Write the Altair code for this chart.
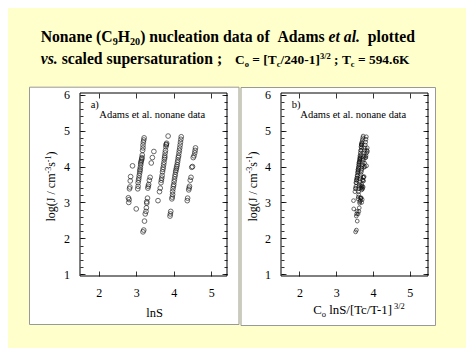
import altair as alt
import pandas as pd

# ---------------- data ----------------
# six isotherms of the Adams et al. nonane data: lnS and log(J)
lnS_1 = [2.80, 2.81, 2.79, 2.82, 2.83, 2.84, 2.85, 2.90]
logJ_1 = [3.00, 3.08, 3.13, 3.38, 3.43, 3.60, 3.72, 4.02]
lnS_2 = [3.00, 3.04, 3.05, 3.05, 3.06, 3.07, 3.08, 3.09, 3.10, 3.10, 3.11, 3.12,
         3.12, 3.13, 3.14, 3.15, 3.15, 3.16, 3.17, 3.18, 3.18, 3.19, 3.20, 3.21]
logJ_2 = [2.82, 3.38, 3.45, 3.55, 3.62, 3.68, 3.75, 3.82, 3.88, 3.92, 3.98, 4.05,
          4.10, 4.14, 4.18, 4.22, 4.25, 4.32, 4.45, 4.52, 4.60, 4.68, 4.74, 4.80]
lnS_3 = [3.18, 3.20, 3.22, 3.24, 3.26, 3.27, 3.28, 3.28, 3.30, 3.31, 3.32, 3.33,
         3.35, 3.37, 3.40, 3.43, 3.47]
logJ_3 = [2.18, 2.23, 2.48, 2.68, 2.75, 2.85, 2.98, 3.02, 3.12, 3.40, 3.45, 3.50,
          3.62, 3.70, 4.10, 4.25, 4.42]
lnS_4 = [3.58, 3.62, 3.64, 3.66, 3.67, 3.68, 3.69, 3.70, 3.71, 3.72, 3.73, 3.74,
         3.75, 3.76, 3.76, 3.77, 3.78, 3.79, 3.80, 3.80, 3.81, 3.85]
logJ_4 = [3.05, 3.30, 3.40, 3.55, 3.62, 3.68, 3.75, 3.85, 3.92, 3.98, 4.05, 4.12,
          4.20, 4.25, 4.30, 4.38, 4.45, 4.55, 4.60, 4.62, 4.65, 4.85]
lnS_5 = [3.90, 3.91, 3.92, 3.95, 3.96, 3.97, 3.97, 3.98, 3.99, 4.00, 4.01, 4.02,
         4.03, 4.04, 4.05, 4.06, 4.07, 4.08, 4.09, 4.10, 4.11, 4.12, 4.13, 4.14,
         4.15, 4.16, 4.17, 4.18, 4.19, 4.20]
logJ_5 = [2.62, 2.68, 2.75, 3.10, 3.15, 3.22, 3.30, 3.38, 3.45, 3.50, 3.58, 3.65,
          3.72, 3.78, 3.85, 3.90, 3.95, 4.00, 4.05, 4.12, 4.18, 4.25, 4.30, 4.38,
          4.45, 4.52, 4.60, 4.68, 4.76, 4.83]
lnS_6 = [4.36, 4.37, 4.40, 4.41, 4.42, 4.44, 4.46, 4.48, 4.50, 4.52, 4.54, 4.56, 4.57, 4.58]
logJ_6 = [3.05, 3.12, 3.35, 3.40, 3.45, 3.62, 3.70, 3.98, 4.00, 4.25, 4.30, 4.38, 4.45, 4.52]
scale_factor = [1.32, 1.16, 1.11, 0.97, 0.91, 0.84]

x_ticks = [2, 3, 4, 5]
y_ticks = [1, 2, 3, 4, 5, 6]
y_minor = [round(1 + 0.2 * i, 1) for i in range(26)]

lnS_cols = [lnS_1, lnS_2, lnS_3, lnS_4, lnS_5, lnS_6]
logJ_cols = [logJ_1, logJ_2, logJ_3, logJ_4, logJ_5, logJ_6]
recs = []
for k, (xs, ys) in enumerate(zip(lnS_cols, logJ_cols)):
    for a, b in zip(xs, ys):
        recs.append({"iso": k + 1, "lnS": a, "logJ": b, "scaled": a * scale_factor[k]})
pts = pd.DataFrame(recs)

# ---------------- text layout helpers ----------------
FONT = "Liberation Serif"
DIG = {str(d): 500 for d in range(10)}
WIDTHS = {
    "r": {**DIG, " ": 250, "(": 333, ")": 333, "/": 278, "-": 333, ".": 250, "[": 333,
          "]": 333, "A": 722, "C": 667, "J": 389, "S": 556, "T": 611, "a": 444, "b": 500,
          "c": 444, "d": 500, "e": 444, "g": 500, "l": 278, "m": 778, "n": 500, "o": 500,
          "s": 389, "t": 278},
    "b": {**DIG, " ": 250, "(": 333, ")": 333, ".": 250, "/": 278, "-": 333, ";": 333,
          "=": 570, "[": 333, "]": 333, "A": 722, "C": 722, "H": 778, "K": 778, "N": 722,
          "T": 667, "a": 500, "c": 444, "d": 556, "e": 444, "f": 333, "i": 278, "l": 278,
          "m": 833, "n": 556, "o": 500, "p": 556, "r": 444, "s": 389, "t": 333, "u": 556,
          "v": 500},
    "bi": {" ": 250, ".": 250, "a": 500, "e": 444, "l": 278, "s": 389, "t": 278, "v": 444},
}


def text_width(runs):
    return sum(WIDTHS[st].get(ch, 500) * sz / 1000 for t, st, sz, sh in runs for ch in t)


def place(runs, x0, y0, vertical=False):
    words = []
    pos = 0.0
    for text, style, size, shift in runs:
        table = WIDTHS[style]
        word, start = "", pos
        for ch in text:
            w = table.get(ch, 500) * size / 1000
            if ch == " ":
                if word:
                    words.append((word, style, size, shift, start))
                word = ""
                pos += w
            else:
                if not word:
                    start = pos
                word += ch
                pos += w
        if word:
            words.append((word, style, size, shift, start))
    rows = []
    for word, style, size, shift, p in words:
        if vertical:
            rows.append(dict(t=word, st=style, s=size, x=x0 + shift, y=y0 - p, v=1))
        else:
            rows.append(dict(t=word, st=style, s=size, x=x0 + p, y=y0 + shift, v=0))
    return rows


def text_layers(rows):
    df = pd.DataFrame(rows)
    layers = []
    for (st, v), g in df.groupby(["st", "v"]):
        layers.append(
            alt.Chart(g).mark_text(
                font=FONT,
                fontWeight="bold" if st.startswith("b") else "normal",
                fontStyle="italic" if st == "bi" else "normal",
                align="left", baseline="alphabetic", angle=270 if v else 0,
                color="black",
            ).encode(
                x=alt.X("x:Q", scale=None, axis=None),
                y=alt.Y("y:Q", scale=None, axis=None),
                text="t:N",
                size=alt.Size("s:Q", scale=None, legend=None),
            )
        )
    return layers


one = pd.DataFrame({"a": [0]})


def rect(x1, x2, y1, y2, **kw):
    return alt.Chart(one).mark_rect(**kw).encode(
        x=alt.value(x1), x2=alt.value(x2), y=alt.value(y1), y2=alt.value(y2))


W, H = 147, 183
LX, LY = 80, 92.5
RX = 281


def ax(orient, values, size, labels):
    kw = dict(orient=orient, values=values, tickSize=size, offset=-size, labels=labels,
              domain=False, grid=False, title=None, ticks=True, tickColor="black",
              tickWidth=0.8, zindex=1)
    if labels:
        kw.update(labelFont=FONT, labelFontSize=12, labelColor="black",
                  labelPadding=11 if orient == "bottom" else 10.5)
    return alt.Axis(**kw)


def panel(xfield, xdom, psize, rows, box, with_bg):
    xs = alt.Scale(domain=xdom, nice=False, zero=False)
    ys = alt.Scale(domain=[0.95, 6.05], nice=False, zero=False)
    base = alt.Chart(pts)
    pts_layer = base.mark_point(shape="circle", filled=False, stroke="#111111",
                                strokeWidth=0.9, size=psize).encode(
        x=alt.X(f"{xfield}:Q", scale=xs, axis=ax("bottom", x_ticks, 5, True)),
        y=alt.Y("logJ:Q", scale=ys, axis=ax("left", y_ticks, 5, True)))
    ax2 = base.mark_point(opacity=0).encode(
        x=alt.X(f"{xfield}:Q", scale=xs, axis=ax("top", x_ticks, 5, False)),
        y=alt.Y("logJ:Q", scale=ys, axis=ax("right", y_ticks, 5, False)))
    ax3 = base.mark_point(opacity=0).encode(
        x=alt.X(f"{xfield}:Q", scale=xs, axis=None),
        y=alt.Y("logJ:Q", scale=ys, axis=ax("left", y_minor, 3, False)))
    ax4 = base.mark_point(opacity=0).encode(
        x=alt.X(f"{xfield}:Q", scale=xs, axis=None),
        y=alt.Y("logJ:Q", scale=ys, axis=ax("right", y_minor, 3, False)))
    layers = []
    if with_bg:
        layers.append(rect(8 - LX, 466 - LX, 8 - LY, 347 - LY, fill="#FFFFCC"))
    layers.append(rect(*box, fill="white", stroke="#999999", strokeWidth=1))
    layers += [pts_layer, ax2, ax3, ax4,
               rect(0, W, 0, H, fillOpacity=0, stroke="black", strokeWidth=1)]
    layers += text_layers(rows)
    return alt.layer(*layers).resolve_axis(x="independent", y="independent").properties(
        width=W, height=H)


# ---------------- texts ----------------
T1, S1 = 15.7, 10.2
T2, S2 = 13.4, 8.5
left_rows = []
left_rows += place([("Nonane (C", "b", T1, 0), ("9", "b", S1, 3.5), ("H", "b", T1, 0),
                    ("20", "b", S1, 3.5), (") nucleation data of  Adams ", "b", T1, 0),
                    ("et al.", "bi", T1, 0), ("  plotted", "b", T1, 0)], 40.7 - LX, 41 - LY)
left_rows += place([("vs.", "bi", T1, 0), (" scaled supersaturation ;", "b", T1, 0)],
                   40.7 - LX, 63.5 - LY)
left_rows += place([("C", "b", T2, 0), ("o", "b", S2, 2.5), (" = [T", "b", T2, 0),
                    ("c", "b", S2, 2.5), ("/240-1]", "b", T2, 0), ("3/2", "b", S2, -5),
                    (" ; T", "b", T2, 0), ("c", "b", S2, 2.5), (" = 594.6K", "b", T2, 0)],
                   235 - LX, 63.5 - LY)

ytitle = [("log(J / cm", "r", 12, 0), ("-3", "r", 8, -4.5), ("s", "r", 12, 0),
          ("-1", "r", 8, -4.5), (")", "r", 12, 0)]
left_rows += place([("a)", "r", 10.5, 0)], 90.7 - LX, 107.7 - LY)
left_rows += place([("Adams et al. nonane data", "r", 10.5, 0)], 99.3 - LX, 117.5 - LY)
lns_run = [("lnS", "r", 12.5, 0)]
left_rows += place(lns_run, 154.5 - LX - text_width(lns_run) / 2, 316 - LY)
left_rows += place(ytitle, 55 - LX, 221 - LY, vertical=True)

right_rows = []
right_rows += place([("b)", "r", 10.5, 0)], 291.7 - RX, 107.7 - LY)
right_rows += place([("Adams et al. nonane data", "r", 10.5, 0)], 300.3 - RX, 117.5 - LY)
right_rows += place([("C", "r", 12.8, 0), ("o", "r", 8.5, 3), (" lnS/[Tc/T-1]", "r", 12.8, 0),
                     ("3/2", "r", 8.5, -5)], 313.3 - RX, 313.5 - LY)
right_rows += place(ytitle, 256.5 - RX, 221 - LY, vertical=True)

left = panel("lnS", [1.5, 5.42], 22, left_rows,
             (29.5 - LX, 239 - LX, 86.7 - LY, 324 - LY), True)
right = panel("scaled", [1.5, 5.5], 14, right_rows,
              (241 - RX, 435.5 - RX, 87 - LY, 325 - LY), False)

chart = alt.hconcat(left, right, spacing=RX - LX - W, bounds="flush", padding=0).configure(
    background="#FFFFCC", font=FONT).configure_view(stroke=None, fill=None)

chart.save("out.html", embed_options={"renderer": "svg", "actions": False})
